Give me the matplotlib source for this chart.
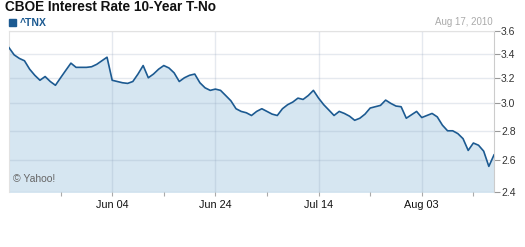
import numpy as np
import pandas as pd
import matplotlib
matplotlib.use('Agg')
import matplotlib.pyplot as plt
from matplotlib.ticker import FixedLocator, NullLocator, FixedFormatter

plt.rcParams['font.family'] = ['Liberation Sans', 'DejaVu Sans']

# ^TNX daily values
dates = pd.date_range('2010-05-15', '2010-08-17', freq='D')
rate = [3.452, 3.39, 3.36, 3.34, 3.27, 3.22, 3.18, 3.21, 3.17, 3.14,
        3.20, 3.26, 3.32, 3.285, 3.285, 3.285, 3.29, 3.31, 3.34, 3.37,
        3.18, 3.17, 3.16, 3.155, 3.17, 3.23, 3.30, 3.20, 3.23, 3.27,
        3.30, 3.28, 3.24, 3.17, 3.20, 3.22, 3.23, 3.16, 3.12, 3.10,
        3.11, 3.10, 3.06, 3.02, 2.96, 2.94, 2.93, 2.91, 2.94, 2.96,
        2.94, 2.92, 2.91, 2.96, 2.99, 3.01, 3.04, 3.03, 3.06, 3.10,
        3.04, 2.99, 2.95, 2.91, 2.94, 2.925, 2.905, 2.875, 2.89, 2.92,
        2.965, 2.975, 2.985, 3.025, 3.00, 2.98, 2.975, 2.89, 2.915, 2.94,
        2.895, 2.91, 2.925, 2.90, 2.84, 2.80, 2.80, 2.78, 2.745, 2.665,
        2.715, 2.70, 2.66, 2.56, 2.635]

yticks = [2.4, 2.6, 2.8, 3.0, 3.2, 3.4, 3.6]
xticks = ['2010-06-04', '2010-06-24', '2010-07-14', '2010-08-03']
xminor = ['2010-05-25', '2010-06-14', '2010-07-04', '2010-07-24', '2010-08-13']

line_c = '#1c5a91'
fill_c = '#d6e6f1'

fig = plt.figure(figsize=(5.25, 2.47), dpi=100)
ax = fig.add_axes([9/525, 55/247, 485/525, 161/247])

ax.fill_between(dates, rate, 2.0, color=fill_c, lw=0, zorder=1)
ax.plot(dates, rate, color=line_c, lw=1.2, zorder=3)

ax.set_yscale('log')
ax.set_ylim(2.4, 3.6)
ax.set_xlim(dates[0], dates[-1])

ax.yaxis.set_major_locator(FixedLocator(yticks))
ax.yaxis.set_major_formatter(FixedFormatter(['%.1f' % v for v in yticks]))
ax.yaxis.set_minor_locator(NullLocator())
ax.yaxis.tick_right()
ax.tick_params(axis='y', which='major', length=4, width=0.8, color='#999999',
               labelsize=7.5, labelcolor='#333333', pad=1)

xt = pd.to_datetime(xticks)
ax.set_xticks(xt)
ax.set_xticklabels([d.strftime('%b %d') for d in xt])
ax.set_xticks(pd.to_datetime(xminor), minor=True)
ax.tick_params(axis='x', which='both', length=3, width=0.8, color='#aaaaaa',
               labelsize=7.8, labelcolor='#111111', pad=2.5)

ax.grid(True, which='major', color=(0.55, 0.62, 0.72), alpha=0.22, lw=1)
for gl in ax.get_xgridlines() + ax.get_ygridlines():
    gl.set_zorder(2)

for s in ['left', 'top']:
    ax.spines[s].set_color('#e2e2e2')
ax.spines['right'].set_color('#cccccc')
ax.spines['bottom'].set_visible(False)

ax.text(0.008, 0.06, '\u00a9 Yahoo!', transform=ax.transAxes, fontsize=7.5,
        color='#666666', zorder=5)

fig.text(5/525, 1 - 11/247, 'CBOE Interest Rate 10-Year T-No', fontsize=9.8,
         fontweight='bold', color='#111111', va='baseline')
fig.patches.append(plt.Rectangle((9/525, 1 - 26/247), 7/525, 7/247,
                                 transform=fig.transFigure, color=line_c))
fig.text(20/525, 1 - 26/247, '^TNX', fontsize=7.5, fontweight='bold',
         color=line_c, va='baseline')
fig.text(493/525, 1 - 25/247, 'Aug 17, 2010', fontsize=7, color='#aaaaaa',
         ha='right', va='baseline')

fig.savefig('out.png', dpi=100)
